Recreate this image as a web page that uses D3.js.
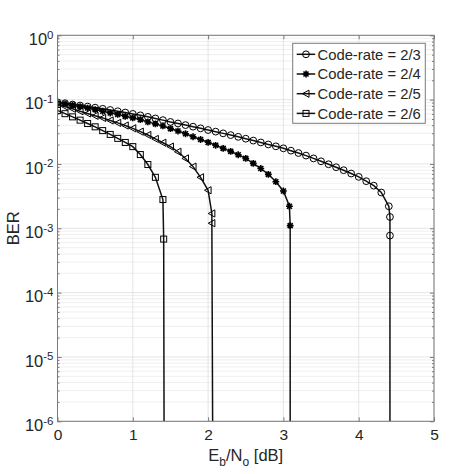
<!DOCTYPE html>
<html>
<head>
<meta charset="utf-8">
<script src="https://cdn.jsdelivr.net/npm/d3@7"></script>
<style>
  body { margin: 0; background: #fff; }
  text { font-family: "Liberation Sans", Arial, sans-serif; fill: #262626; }
</style>
</head>
<body>
<script>
// values (BER 0 = curve falls off the bottom of the axis)
const ebno23 = [0,0.1,0.2,0.3,0.4,0.5,0.6,0.7,0.8,0.9,1.0,1.1,1.2,1.3,1.4,1.5,1.6,1.7,1.8,1.9,2.0,2.1,2.2,2.3,2.4,2.5,2.6,2.7,2.8,2.9,3.0,3.1,3.2,3.3,3.4,3.5,3.6,3.7,3.8,3.9,4.0,4.1,4.2,4.3,4.4,4.415,4.415,4.415];
const ber23 = [0.091,0.088,0.084,0.081,0.078,0.075,0.072,0.069,0.066,0.063,0.060,0.057,0.054,0.051,0.048,0.045,0.0426,0.0402,0.0380,0.0358,0.0337,0.0318,0.0299,0.0281,0.0264,0.0247,0.0231,0.0216,0.0201,0.0188,0.0175,0.0161,0.0148,0.0135,0.0122,0.0110,0.0099,0.0089,0.0080,0.0071,0.0063,0.0054,0.0046,0.0036,0.0022,0.0015,0.00077,0];

const ebno24 = [0,0.1,0.2,0.3,0.4,0.5,0.6,0.7,0.8,0.9,1.0,1.1,1.2,1.3,1.4,1.5,1.6,1.7,1.8,1.9,2.0,2.1,2.2,2.3,2.4,2.5,2.6,2.7,2.8,2.9,3.0,3.08,3.09,3.09];
const ber24 = [0.090,0.086,0.082,0.078,0.074,0.070,0.066,0.062,0.059,0.055,0.052,0.049,0.045,0.042,0.039,0.0355,0.0325,0.0295,0.0265,0.0240,0.0217,0.0195,0.0175,0.0157,0.0139,0.0122,0.0102,0.0085,0.0069,0.0053,0.0038,0.0022,0.0011,0];

const ebno25 = [0,0.1,0.2,0.3,0.4,0.5,0.6,0.7,0.8,0.9,1.0,1.1,1.2,1.3,1.4,1.5,1.6,1.7,1.8,1.9,2.0,2.05,2.05,2.06];
const ber25 = [0.085,0.078,0.072,0.066,0.061,0.056,0.052,0.0475,0.0435,0.0396,0.0358,0.0318,0.0282,0.0245,0.0214,0.0186,0.0155,0.0122,0.0091,0.0062,0.0039,0.0017,0.0012,0];

const ebno26 = [0,0.1,0.2,0.3,0.4,0.5,0.6,0.7,0.8,0.9,1.0,1.1,1.2,1.3,1.4,1.41,1.415];
const ber26 = [0.068,0.0605,0.054,0.048,0.0425,0.0378,0.033,0.0288,0.025,0.0216,0.0186,0.014,0.0098,0.0062,0.0028,0.00068,0];

const seriesNames = ["Code-rate = 2/3", "Code-rate = 2/4", "Code-rate = 2/5", "Code-rate = 2/6"];
const seriesMarkers = ["circle", "star", "triangle", "square"];
const xTicks = [0, 1, 2, 3, 4, 5];
const yExponents = [0, -1, -2, -3, -4, -5, -6];

const series = [
  [ebno23, ber23], [ebno24, ber24], [ebno25, ber25], [ebno26, ber26]
].map(([xs, ys], i) => ({
  name: seriesNames[i],
  marker: seriesMarkers[i],
  values: xs.map((x, j) => ({ x: x, y: ys[j] }))
}));

// canvas
const W = 474, H = 474;
const MARGIN = { top: 35.3, right: 40, bottom: 52.7, left: 57.5 };
const width = W - MARGIN.left - MARGIN.right,
      height = H - MARGIN.top - MARGIN.bottom;
const yMin = 1e-6;

const svg = d3.select("body").append("svg")
    .attr("width", W).attr("height", H);
const g = svg.append("g")
    .attr("transform", `translate(${MARGIN.left},${MARGIN.top})`);

const x = d3.scaleLinear().domain([0, 5]).range([0, width]);
const y = d3.scaleLog().domain([yMin, 1]).range([height, 0]);

const majorY = yExponents.map(e => Math.pow(10, e));
const minorY = [];
for (let e = -6; e < 0; e++) for (let k = 2; k <= 9; k++) minorY.push(k * Math.pow(10, e));

// grid
g.append("g").selectAll("line").data(minorY).join("line")
    .attr("x1", 0).attr("x2", width)
    .attr("y1", d => y(d)).attr("y2", d => y(d))
    .attr("stroke", "#ebebeb").attr("stroke-width", 0.8);
g.append("g").selectAll("line").data(majorY).join("line")
    .attr("x1", 0).attr("x2", width)
    .attr("y1", d => y(d)).attr("y2", d => y(d))
    .attr("stroke", "#dedede").attr("stroke-width", 0.8);
g.append("g").selectAll("line").data(xTicks).join("line")
    .attr("x1", d => x(d)).attr("x2", d => x(d))
    .attr("y1", 0).attr("y2", height)
    .attr("stroke", "#dedede").attr("stroke-width", 0.8);

// curves
g.append("clipPath").attr("id", "clip")
  .append("rect").attr("width", width).attr("height", height);

const line = d3.line()
    .x(d => x(d.x))
    .y(d => y(Math.max(d.y, yMin)));

const plot = g.append("g").attr("clip-path", "url(#clip)");

function drawMarker(sel, type) {
  if (type === "circle") {
    sel.append("circle").attr("r", 3.4)
        .attr("fill", "none").attr("stroke", "#000").attr("stroke-width", 1);
  } else if (type === "square") {
    sel.append("rect").attr("x", -3).attr("y", -3).attr("width", 6).attr("height", 6)
        .attr("fill", "none").attr("stroke", "#000").attr("stroke-width", 1);
  } else if (type === "triangle") {
    sel.append("path").attr("d", "M-3.6,0L3,-3.6L3,3.6Z")
        .attr("fill", "none").attr("stroke", "#000").attr("stroke-width", 1);
  } else {
    sel.append("path").attr("d", "M-3.4,0L3.4,0M0,-3.4L0,3.4M-2.5,-2.5L2.5,2.5M-2.5,2.5L2.5,-2.5")
        .attr("fill", "none").attr("stroke", "#000").attr("stroke-width", 1.6);
  }
}

series.forEach(s => {
  plot.append("path")
      .datum(s.values)
      .attr("fill", "none")
      .attr("stroke", "#111")
      .attr("stroke-width", 1.5)
      .attr("d", line);
  plot.append("g").selectAll("g")
      .data(s.values.filter(d => d.y > 0))
      .join("g")
      .attr("transform", d => `translate(${x(d.x)},${y(d.y)})`)
      .each(function () { drawMarker(d3.select(this), s.marker); });
});

// axes: ticks inside, on all four sides
const axisColor = "#7a7a7a";
function styleAxis(sel) {
  sel.select(".domain").remove();
  sel.selectAll(".tick line").attr("stroke", axisColor);
}

g.append("g")
    .attr("transform", `translate(0,${height})`)
    .call(d3.axisBottom(x).tickValues(xTicks).tickSize(-4).tickPadding(8).tickFormat(d3.format("d")))
    .call(styleAxis)
    .selectAll("text").attr("font-size", 15.5).attr("fill", "#262626");
g.append("g")
    .call(d3.axisTop(x).tickValues(xTicks).tickSize(-4).tickFormat(""))
    .call(styleAxis);

const yAxis = g.append("g")
    .call(d3.axisLeft(y).tickValues(majorY).tickSize(-4).tickPadding(4))
    .call(styleAxis);
yAxis.selectAll("text")
    .attr("font-size", 16.5).attr("fill", "#262626").attr("dy", "0.55em")
    .text(null)
    .each(function (d) {
      const t = d3.select(this);
      t.append("tspan").text("10");
      t.append("tspan").attr("dy", "-0.55em").attr("font-size", 11.5).text(Math.round(Math.log10(d)));
    });
g.append("g")
    .call(d3.axisLeft(y).tickValues(minorY).tickSize(-2).tickFormat(""))
    .call(styleAxis);
g.append("g")
    .attr("transform", `translate(${width},0)`)
    .call(d3.axisRight(y).tickValues(majorY).tickSize(-4).tickFormat(""))
    .call(styleAxis);
g.append("g")
    .attr("transform", `translate(${width},0)`)
    .call(d3.axisRight(y).tickValues(minorY).tickSize(-2).tickFormat(""))
    .call(styleAxis);

// box
g.append("rect")
    .attr("width", width).attr("height", height)
    .attr("fill", "none").attr("stroke", axisColor).attr("stroke-width", 1);

// axis labels
const xLabel = svg.append("text")
    .attr("x", MARGIN.left + x(2.5)).attr("y", 461)
    .attr("text-anchor", "middle").attr("font-size", 16.5);
xLabel.append("tspan").text("E");
xLabel.append("tspan").attr("dy", 5).attr("font-size", 12).text("b");
xLabel.append("tspan").attr("dy", -5).text("/N");
xLabel.append("tspan").attr("dy", 5).attr("font-size", 12).text("o");
xLabel.append("tspan").attr("dy", -5).text(" [dB]");

svg.append("text")
    .attr("transform", `translate(19,${MARGIN.top + height / 2}) rotate(-90)`)
    .attr("text-anchor", "middle").attr("font-size", 16.5)
    .text("BER");

// legend
const legend = g.append("g")
    .attr("transform", `translate(${292.7 - MARGIN.left},${43.3 - MARGIN.top})`);
legend.append("rect")
    .attr("width", 132.6).attr("height", 80)
    .attr("fill", "#fff").attr("stroke", axisColor).attr("stroke-width", 1);
const rows = legend.selectAll(".row").data(series).join("g")
    .attr("class", "row")
    .attr("transform", (d, i) => `translate(0,${11 + i * 19.7})`);
rows.append("line")
    .attr("x1", 4).attr("x2", 22.5)
    .attr("stroke", "#111").attr("stroke-width", 1.5);
rows.append("g")
    .attr("transform", "translate(13.3,0)")
    .each(function (d) { drawMarker(d3.select(this), d.marker); });
rows.append("text")
    .attr("x", 24.8).attr("y", 5.3)
    .attr("font-size", 14.8)
    .text(d => d.name);
</script>
</body>
</html>
